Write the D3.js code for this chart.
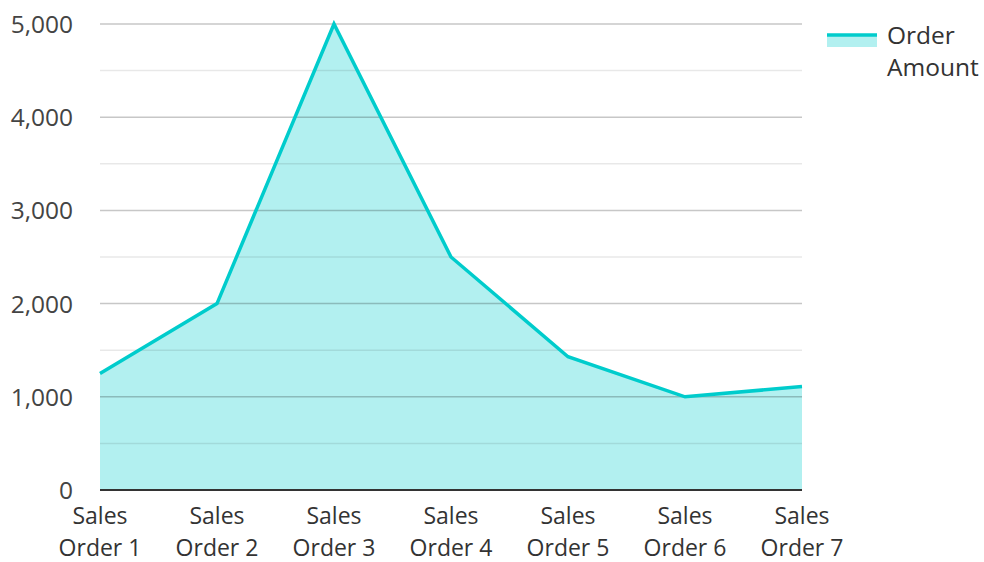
<!DOCTYPE html>
<html>
<head>
<meta charset="utf-8">
<script src="https://cdn.jsdelivr.net/npm/d3@7"></script>
<style>
  body { margin: 0; background: #fff; }
  svg { display: block; }
  svg text { font-family: "Open Sans", "Noto Sans", sans-serif; }
</style>
</head>
<body>
<div id="chart"></div>
<script>
'use strict';

const categories = ['Sales Order 1', 'Sales Order 2', 'Sales Order 3', 'Sales Order 4',
  'Sales Order 5', 'Sales Order 6', 'Sales Order 7'];
const orderAmount = [1250, 2000, 5000, 2500, 1430, 1000, 1110];
const seriesName = 'Order Amount';
const yTicks = [0, 1000, 2000, 3000, 4000, 5000];
const yMinorTicks = [500, 1500, 2500, 3500, 4500];

const width = 984, height = 562;
const margin = { top: 24, left: 100, right: 182, bottom: 72 };
const color = '#00cccc';
const fontSize = 24.5;
const xFontSize = 23;

const svg = d3.select('#chart').append('svg')
  .attr('width', width).attr('height', height);

const x = d3.scalePoint().domain(categories)
  .range([margin.left, width - margin.right]);
const y = d3.scaleLinear().domain([0, 5000])
  .range([height - margin.bottom, margin.top]);

// area first, grid sits over it (as in the picture)
const area = d3.area()
  .x((d, i) => x(categories[i]))
  .y0(y(0))
  .y1(d => y(d));
svg.append('path').datum(orderAmount)
  .attr('d', area)
  .attr('fill', color)
  .attr('fill-opacity', 0.3);

const grid = svg.append('g');
grid.selectAll('.minor').data(yMinorTicks).enter().append('line')
  .attr('class', 'minor')
  .attr('x1', margin.left).attr('x2', width - margin.right)
  .attr('y1', d => y(d)).attr('y2', d => y(d))
  .attr('stroke', '#000').attr('stroke-opacity', 0.09).attr('stroke-width', 1.5);
grid.selectAll('.major').data(yTicks.slice(1)).enter().append('line')
  .attr('class', 'major')
  .attr('x1', margin.left).attr('x2', width - margin.right)
  .attr('y1', d => y(d)).attr('y2', d => y(d))
  .attr('stroke', '#000').attr('stroke-opacity', 0.22).attr('stroke-width', 1.5);

const line = d3.line()
  .x((d, i) => x(categories[i]))
  .y(d => y(d));
svg.append('path').datum(orderAmount)
  .attr('d', line)
  .attr('fill', 'none')
  .attr('stroke', color)
  .attr('stroke-width', 3.5)
  .attr('stroke-linejoin', 'miter');

// baseline
svg.append('line')
  .attr('x1', margin.left).attr('x2', width - margin.right)
  .attr('y1', y(0)).attr('y2', y(0))
  .attr('stroke', '#333').attr('stroke-width', 2);

// y axis labels
const yAxis = d3.axisLeft(y).tickValues(yTicks).tickSize(0).tickPadding(27)
  .tickFormat(d3.format(','));
const $yAxis = svg.append('g')
  .attr('transform', `translate(${margin.left}, 0)`)
  .call(yAxis)
  .attr('font-family', null)
  .attr('font-size', null);
$yAxis.select('.domain').remove();
$yAxis.selectAll('text')
  .attr('font-size', fontSize).attr('fill', '#444')
  .attr('dy', '0.35em');

// x axis labels (two lines)
const $xLabels = svg.append('g').selectAll('text')
  .data(categories).enter().append('text')
  .attr('x', d => x(d))
  .attr('text-anchor', 'middle')
  .attr('font-size', xFontSize).attr('fill', '#333');
$xLabels.append('tspan').attr('x', d => x(d)).attr('y', 524)
  .text(d => d.split(' ')[0]);
$xLabels.append('tspan').attr('x', d => x(d)).attr('y', 555.5)
  .text(d => d.split(' ').slice(1).join(' '));

// legend
const $legend = svg.append('g').attr('transform', 'translate(827, 35)');
$legend.append('rect').attr('x', 0).attr('y', 0).attr('width', 50).attr('height', 12)
  .attr('fill', color).attr('fill-opacity', 0.3);
$legend.append('line').attr('x1', 0).attr('x2', 50).attr('y1', 0).attr('y2', 0)
  .attr('stroke', color).attr('stroke-width', 3.5);
const words = seriesName.split(' ');
$legend.selectAll('text.leg').data(words).enter().append('text')
  .attr('class', 'leg')
  .attr('x', 60).attr('y', (d, i) => 9 + i * 32)
  .attr('font-size', fontSize).attr('fill', '#333')
  .text(d => d);
</script>
</body>
</html>
